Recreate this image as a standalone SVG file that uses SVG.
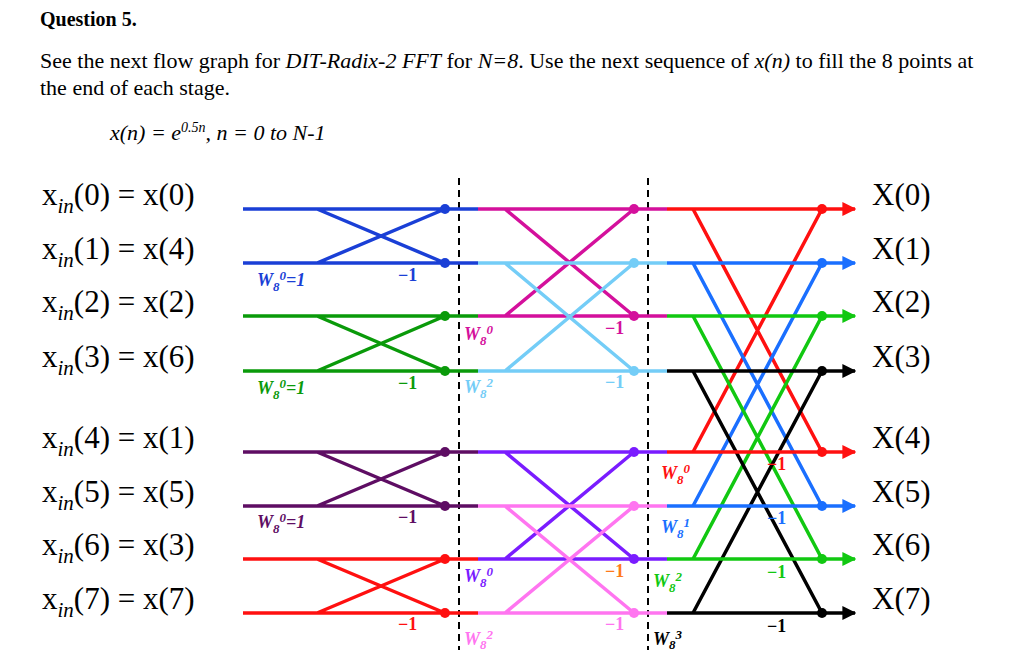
<svg xmlns="http://www.w3.org/2000/svg" width="1027" height="657" viewBox="0 0 1027 657" font-family="Liberation Serif, DejaVu Serif, serif">
<defs>
<marker id="ar" viewBox="0 0 10 10" refX="9" refY="5" markerWidth="4" markerHeight="4" orient="auto" markerUnits="strokeWidth"><path d="M0,0L10,5L0,10z" fill="context-stroke"/></marker>
<style>
text{font-family:"Liberation Serif","DejaVu Serif",serif}
.t{font-size:22px}
.lab{font-size:31px}
.w{font-size:18px;font-style:italic;font-weight:bold}
.m{font-size:18px;font-weight:bold}
.c path{fill:none;stroke-width:3.5}
.d{stroke:#000;stroke-width:2;stroke-dasharray:7,5}
</style>
</defs>
<rect width="1027" height="657" fill="#fff"/>
<text x="40" y="26" font-size="20" font-weight="bold">Question 5.</text>
<text class="t" x="40" y="68">See the next flow graph for <tspan font-style="italic">DIT-Radix-2 FFT</tspan> for <tspan font-style="italic">N=8</tspan>. Use the next sequence of <tspan font-style="italic">x(n)</tspan> to fill the 8 points at</text>
<text class="t" x="40" y="95">the end of each stage.</text>
<text class="t" x="110" y="140" font-style="italic">x(n) = e<tspan font-size="14" dy="-8">0.5n</tspan><tspan dy="8">, n = 0 to N-1</tspan></text>

<g id="inputs" class="lab">
<text x="42" y="205">x<tspan font-size="21" dy="8" font-style="italic">in</tspan><tspan dy="-8">(0) = x(0)</tspan></text>
<text x="42" y="259">x<tspan font-size="21" dy="8" font-style="italic">in</tspan><tspan dy="-8">(1) = x(4)</tspan></text>
<text x="42" y="312">x<tspan font-size="21" dy="8" font-style="italic">in</tspan><tspan dy="-8">(2) = x(2)</tspan></text>
<text x="42" y="367">x<tspan font-size="21" dy="8" font-style="italic">in</tspan><tspan dy="-8">(3) = x(6)</tspan></text>
<text x="42" y="448">x<tspan font-size="21" dy="8" font-style="italic">in</tspan><tspan dy="-8">(4) = x(1)</tspan></text>
<text x="42" y="502">x<tspan font-size="21" dy="8" font-style="italic">in</tspan><tspan dy="-8">(5) = x(5)</tspan></text>
<text x="42" y="555">x<tspan font-size="21" dy="8" font-style="italic">in</tspan><tspan dy="-8">(6) = x(3)</tspan></text>
<text x="42" y="609">x<tspan font-size="21" dy="8" font-style="italic">in</tspan><tspan dy="-8">(7) = x(7)</tspan></text>
</g>
<g id="outputs" class="lab">
<text x="872" y="205">X(0)</text><text x="872" y="259">X(1)</text><text x="872" y="312">X(2)</text><text x="872" y="367">X(3)</text>
<text x="872" y="448">X(4)</text><text x="872" y="502">X(5)</text><text x="872" y="555">X(6)</text><text x="872" y="609">X(7)</text>
</g>

<g id="dividers">
<line class="d" x1="459" y1="178" x2="459" y2="650"/>
<line class="d" x1="648" y1="178" x2="648" y2="650"/>
</g>

<g id="connectors" class="c">
<path stroke="#1a3fd6" d="M243,209H478M243,263H478M317,209L445,263M317,263L445,209"/>
<path stroke="#0a9a0a" d="M243,316H478M243,371H478M317,316L445,371M317,371L445,316"/>
<path stroke="#5e0d63" d="M243,452H478M243,506H478M317,452L445,506M317,506L445,452"/>
<path stroke="#ff1010" d="M243,559H478M243,613H478M317,559L445,613M317,613L445,559"/>
<path stroke="#d4109c" d="M478,209H667M478,316H667M505,209L634,316M505,316L634,209"/>
<path stroke="#74cdf7" d="M478,263H667M478,371H667M505,263L634,371M505,371L634,263"/>
<path stroke="#7a1cff" d="M478,452H667M478,559H667M505,452L634,559M505,559L634,452"/>
<path stroke="#ff75f0" d="M478,506H667M478,613H667M505,506L634,613M505,613L634,506"/>
<path stroke="#ff1010" d="M693,209L822,452M693,452L822,209"/>
<path stroke="#1a6fff" d="M693,263L822,506M693,506L822,263"/>
<path stroke="#11c811" d="M693,316L822,559M693,559L822,316"/>
<path stroke="#000" d="M693,371L822,613M693,613L822,371"/>
<path stroke="#ff1010" marker-end="url(#ar)" d="M667,209H855"/>
<path stroke="#ff1010" marker-end="url(#ar)" d="M667,452H855"/>
<path stroke="#1a6fff" marker-end="url(#ar)" d="M667,263H855"/>
<path stroke="#1a6fff" marker-end="url(#ar)" d="M667,506H855"/>
<path stroke="#11c811" marker-end="url(#ar)" d="M667,316H855"/>
<path stroke="#11c811" marker-end="url(#ar)" d="M667,559H855"/>
<path stroke="#000" marker-end="url(#ar)" d="M667,371H855"/>
<path stroke="#000" marker-end="url(#ar)" d="M667,613H855"/>
</g>

<g id="dots">
<g fill="#1a3fd6"><circle cx="445" cy="209" r="5"/><circle cx="445" cy="263" r="5"/></g>
<g fill="#0a9a0a"><circle cx="445" cy="316" r="5"/><circle cx="445" cy="371" r="5"/></g>
<g fill="#5e0d63"><circle cx="445" cy="452" r="5"/><circle cx="445" cy="506" r="5"/></g>
<g fill="#ff1010"><circle cx="445" cy="559" r="5"/><circle cx="445" cy="613" r="5"/></g>
<g fill="#d4109c"><circle cx="634" cy="209" r="5"/><circle cx="634" cy="316" r="5"/></g>
<g fill="#74cdf7"><circle cx="634" cy="263" r="5"/><circle cx="634" cy="371" r="5"/></g>
<g fill="#7a1cff"><circle cx="634" cy="452" r="5"/><circle cx="634" cy="559" r="5"/></g>
<g fill="#ff75f0"><circle cx="634" cy="506" r="5"/><circle cx="634" cy="613" r="5"/></g>
<g fill="#ff1010"><circle cx="822" cy="209" r="5"/><circle cx="822" cy="452" r="5"/></g>
<g fill="#1a6fff"><circle cx="822" cy="263" r="5"/><circle cx="822" cy="506" r="5"/></g>
<g fill="#11c811"><circle cx="822" cy="316" r="5"/><circle cx="822" cy="559" r="5"/></g>
<g fill="#000"><circle cx="822" cy="371" r="5"/><circle cx="822" cy="613" r="5"/></g>
</g>

<g id="weights">
<text class="w" x="257" y="286" fill="#1a3fd6">W<tspan font-size="13" dy="5">8</tspan><tspan font-size="13" dy="-11">0</tspan><tspan dy="6">=1</tspan></text>
<text class="m" x="398" y="281" fill="#1a3fd6">−1</text>
<text class="w" x="257" y="394" fill="#0a9a0a">W<tspan font-size="13" dy="5">8</tspan><tspan font-size="13" dy="-11">0</tspan><tspan dy="6">=1</tspan></text>
<text class="m" x="398" y="389" fill="#0a9a0a">−1</text>
<text class="w" x="257" y="528" fill="#5e0d63">W<tspan font-size="13" dy="5">8</tspan><tspan font-size="13" dy="-11">0</tspan><tspan dy="6">=1</tspan></text>
<text class="m" x="398" y="523" fill="#5e0d63">−1</text>
<text class="m" x="398" y="630" fill="#ff1010">−1</text>

<text class="w" x="464" y="340" fill="#d4109c">W<tspan font-size="13" dy="5">8</tspan><tspan font-size="13" dy="-11">0</tspan></text>
<text class="m" x="605" y="334" fill="#d4109c">−1</text>
<text class="w" x="464" y="393" fill="#74cdf7">W<tspan font-size="13" dy="5">8</tspan><tspan font-size="13" dy="-11">2</tspan></text>
<text class="m" x="605" y="388" fill="#74cdf7">−1</text>
<text class="w" x="464" y="582" fill="#7a1cff">W<tspan font-size="13" dy="5">8</tspan><tspan font-size="13" dy="-11">0</tspan></text>
<text class="m" x="605" y="577" fill="#ff7a1a">−1</text>
<text class="w" x="464" y="645" fill="#ff75f0">W<tspan font-size="13" dy="4">8</tspan><tspan font-size="13" dy="-10">2</tspan></text>
<text class="m" x="605" y="630" fill="#ff75f0">−1</text>

<text class="w" x="661" y="479" fill="#ff1010">W<tspan font-size="13" dy="5">8</tspan><tspan font-size="13" dy="-11">0</tspan></text>
<text class="m" x="767" y="470" fill="#ff1010">−1</text>
<text class="w" x="661" y="533" fill="#1a6fff">W<tspan font-size="13" dy="5">8</tspan><tspan font-size="13" dy="-11">1</tspan></text>
<text class="m" x="767" y="524" fill="#1a6fff">−1</text>
<text class="w" x="653" y="587" fill="#11c811">W<tspan font-size="13" dy="5">8</tspan><tspan font-size="13" dy="-11">2</tspan></text>
<text class="m" x="767" y="578" fill="#11c811">−1</text>
<text class="w" x="653" y="645" fill="#000">W<tspan font-size="13" dy="4">8</tspan><tspan font-size="13" dy="-10">3</tspan></text>
<text class="m" x="767" y="632" fill="#000">−1</text>
</g>
</svg>
